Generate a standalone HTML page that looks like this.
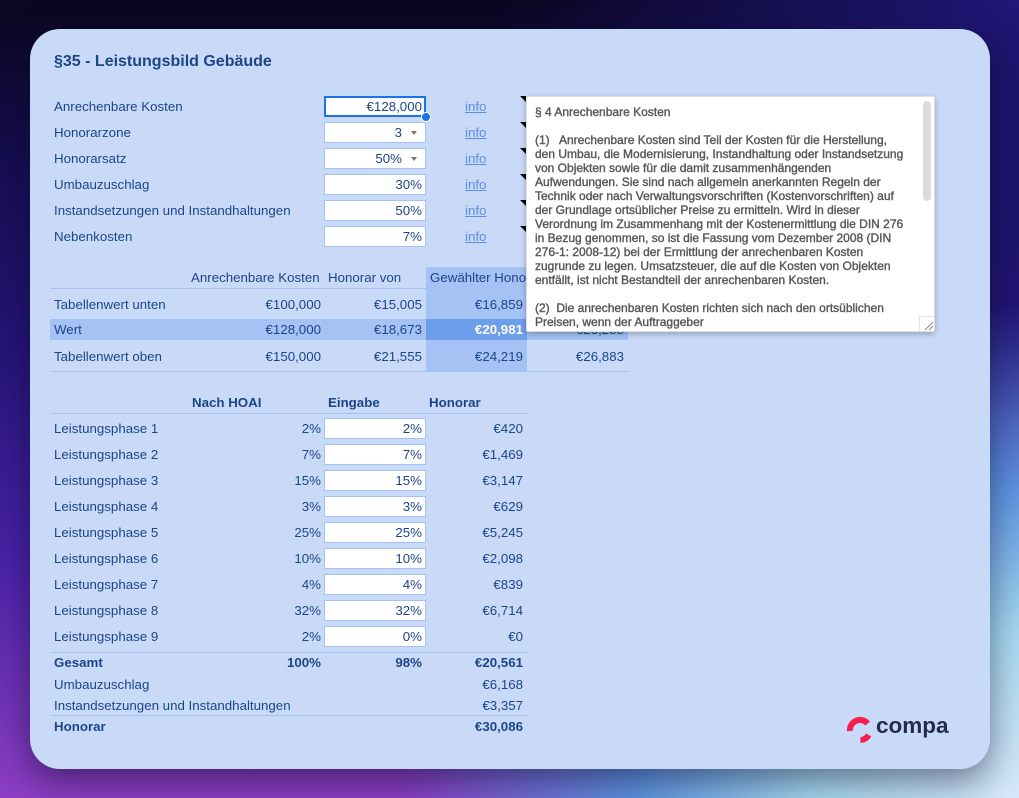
<!DOCTYPE html>
<html><head><meta charset="utf-8"><style>
html,body{margin:0;padding:0;}
body{width:1019px;height:798px;overflow:hidden;position:relative;font-family:"Liberation Sans",Arial,sans-serif;
background:
 radial-gradient(ellipse 520px 420px at 100% 0%, rgba(36,26,135,0.85) 0%, rgba(36,26,135,0) 100%),
 radial-gradient(ellipse 700px 560px at 100% 100%, #d8e8fa 0%, #a6d8f0 30%, #5d94e0 55%, rgba(60,60,180,0) 88%),
 linear-gradient(180deg,#0a0720 0%,#150e50 20%,#26157a 45%,#4a22a8 70%,#8e3ec4 100%);}
.card{position:absolute;left:30px;top:29px;width:960px;height:740px;border-radius:30px;background:#c9daf8;box-shadow:0 12px 34px rgba(10,10,40,0.5);}
.t{position:absolute;line-height:16px;white-space:nowrap;font-size:13.3px;color:#1c4587;}
.r{text-align:right;}
.b{font-weight:bold;}
.box{position:absolute;background:#fff;border:1px solid #a4c2f4;box-sizing:border-box;height:21px;width:102px;left:324px;}
.info{position:absolute;left:465px;line-height:16px;font-size:13.3px;color:#5a8ee8;text-decoration:underline;}
.tri{position:absolute;left:520px;width:0;height:0;border-top:6px solid #000;border-left:6px solid transparent;}
.arrow{position:absolute;left:411px;width:0;height:0;border-top:4px solid #777;border-left:3.5px solid transparent;border-right:3.5px solid transparent;}
.hl{position:absolute;}
.line{position:absolute;height:1px;background:#a4c2f4;}
.pop{position:absolute;left:526px;top:96px;width:409px;height:236px;background:#fff;box-sizing:border-box;border:1px solid #dedede;border-radius:2px;box-shadow:0 2px 6px rgba(0,0,0,0.28);overflow:hidden;}
.p{position:absolute;left:8px;font-size:12px;line-height:14px;color:#585858;-webkit-text-stroke:0.4px #585858;white-space:pre;}
</style></head><body>
<div class="card"></div>

<!-- Title -->
<div class="t b" style="left:54px;top:53px;font-size:16px;line-height:18px;">§35 - Leistungsbild Gebäude</div>

<!-- Input section -->
<div class="t" style="left:54px;top:98.5px;">Anrechenbare Kosten</div>
<div class="t" style="left:54px;top:124.5px;">Honorarzone</div>
<div class="t" style="left:54px;top:150.5px;">Honorarsatz</div>
<div class="t" style="left:54px;top:176.5px;">Umbauzuschlag</div>
<div class="t" style="left:54px;top:202.5px;">Instandsetzungen und Instandhaltungen</div>
<div class="t" style="left:54px;top:228.5px;">Nebenkosten</div>

<div class="box" style="top:96px;border:2px solid #1a73e8;"></div>
<div class="box" style="top:122px;"></div>
<div class="box" style="top:148px;"></div>
<div class="box" style="top:174px;"></div>
<div class="box" style="top:200px;"></div>
<div class="box" style="top:226px;"></div>
<div style="position:absolute;left:421px;top:112px;width:8px;height:8px;border-radius:50%;background:#1a73e8;border:1px solid #fff;"></div>

<div class="t r" style="left:324px;width:98px;top:98.5px;">€128,000</div>
<div class="t r" style="left:324px;width:78px;top:124.5px;">3</div>
<div class="arrow" style="top:131px;"></div>
<div class="t r" style="left:324px;width:78px;top:150.5px;">50%</div>
<div class="arrow" style="top:157px;"></div>
<div class="t r" style="left:324px;width:98px;top:176.5px;">30%</div>
<div class="t r" style="left:324px;width:98px;top:202.5px;">50%</div>
<div class="t r" style="left:324px;width:98px;top:228.5px;">7%</div>

<div class="info" style="top:98.5px;">info</div>
<div class="info" style="top:124.5px;">info</div>
<div class="info" style="top:150.5px;">info</div>
<div class="info" style="top:176.5px;">info</div>
<div class="info" style="top:202.5px;">info</div>
<div class="info" style="top:228.5px;">info</div>

<div class="tri" style="top:96px;"></div>
<div class="tri" style="top:122px;"></div>
<div class="tri" style="top:148px;"></div>
<div class="tri" style="top:174px;"></div>
<div class="tri" style="top:200px;"></div>
<div class="tri" style="top:226px;"></div>

<!-- Table 2 -->
<div class="hl" style="left:426px;top:267px;width:101px;height:104px;background:#a4c2f4;"></div>
<div class="hl" style="left:50px;top:319px;width:578px;height:21px;background:#a4c2f4;"></div>
<div class="hl" style="left:426px;top:319px;width:101px;height:21px;background:#6d9eeb;"></div>
<div class="line" style="left:50px;top:288px;width:578px;"></div>
<div class="line" style="left:50px;top:371px;width:578px;"></div>

<div class="t" style="left:191px;top:270px;">Anrechenbare Kosten</div>
<div class="t" style="left:328px;top:270px;">Honorar von</div>
<div class="t" style="left:430px;top:270px;">Gewählter Honorar</div>
<div class="t" style="left:531px;top:270px;">Honorar bis</div>

<div class="t" style="left:54px;top:296.5px;">Tabellenwert unten</div>
<div class="t r" style="left:187px;width:134px;top:296.5px;">€100,000</div>
<div class="t r" style="left:324px;width:98px;top:296.5px;">€15,005</div>
<div class="t r" style="left:426px;width:97px;top:296.5px;">€16,859</div>
<div class="t r" style="left:527px;width:97px;top:296.5px;">€18,713</div>

<div class="t" style="left:54px;top:322px;">Wert</div>
<div class="t r" style="left:187px;width:134px;top:322px;">€128,000</div>
<div class="t r" style="left:324px;width:98px;top:322px;">€18,673</div>
<div class="t r b" style="left:426px;width:97px;top:322px;color:#fff;">€20,981</div>
<div class="t r" style="left:527px;width:97px;top:322px;">€23,288</div>

<div class="t" style="left:54px;top:348.5px;">Tabellenwert oben</div>
<div class="t r" style="left:187px;width:134px;top:348.5px;">€150,000</div>
<div class="t r" style="left:324px;width:98px;top:348.5px;">€21,555</div>
<div class="t r" style="left:426px;width:97px;top:348.5px;">€24,219</div>
<div class="t r" style="left:527px;width:97px;top:348.5px;">€26,883</div>

<!-- Table 3 -->
<div class="t b" style="left:192px;top:395px;">Nach HOAI</div>
<div class="t b" style="left:328px;top:395px;">Eingabe</div>
<div class="t b" style="left:429px;top:395px;">Honorar</div>
<div class="line" style="left:50px;top:413px;width:477px;"></div>

<div class="box" style="top:418px;"></div>
<div class="box" style="top:444px;"></div>
<div class="box" style="top:470px;"></div>
<div class="box" style="top:496px;"></div>
<div class="box" style="top:522px;"></div>
<div class="box" style="top:548px;"></div>
<div class="box" style="top:574px;"></div>
<div class="box" style="top:600px;"></div>
<div class="box" style="top:626px;"></div>

<div class="t" style="left:54px;top:421px;">Leistungsphase 1</div>
<div class="t r" style="left:187px;width:134px;top:421px;">2%</div>
<div class="t r" style="left:324px;width:98px;top:421px;">2%</div>
<div class="t r" style="left:426px;width:97px;top:421px;">€420</div>

<div class="t" style="left:54px;top:447px;">Leistungsphase 2</div>
<div class="t r" style="left:187px;width:134px;top:447px;">7%</div>
<div class="t r" style="left:324px;width:98px;top:447px;">7%</div>
<div class="t r" style="left:426px;width:97px;top:447px;">€1,469</div>

<div class="t" style="left:54px;top:473px;">Leistungsphase 3</div>
<div class="t r" style="left:187px;width:134px;top:473px;">15%</div>
<div class="t r" style="left:324px;width:98px;top:473px;">15%</div>
<div class="t r" style="left:426px;width:97px;top:473px;">€3,147</div>

<div class="t" style="left:54px;top:499px;">Leistungsphase 4</div>
<div class="t r" style="left:187px;width:134px;top:499px;">3%</div>
<div class="t r" style="left:324px;width:98px;top:499px;">3%</div>
<div class="t r" style="left:426px;width:97px;top:499px;">€629</div>

<div class="t" style="left:54px;top:525px;">Leistungsphase 5</div>
<div class="t r" style="left:187px;width:134px;top:525px;">25%</div>
<div class="t r" style="left:324px;width:98px;top:525px;">25%</div>
<div class="t r" style="left:426px;width:97px;top:525px;">€5,245</div>

<div class="t" style="left:54px;top:551px;">Leistungsphase 6</div>
<div class="t r" style="left:187px;width:134px;top:551px;">10%</div>
<div class="t r" style="left:324px;width:98px;top:551px;">10%</div>
<div class="t r" style="left:426px;width:97px;top:551px;">€2,098</div>

<div class="t" style="left:54px;top:577px;">Leistungsphase 7</div>
<div class="t r" style="left:187px;width:134px;top:577px;">4%</div>
<div class="t r" style="left:324px;width:98px;top:577px;">4%</div>
<div class="t r" style="left:426px;width:97px;top:577px;">€839</div>

<div class="t" style="left:54px;top:603px;">Leistungsphase 8</div>
<div class="t r" style="left:187px;width:134px;top:603px;">32%</div>
<div class="t r" style="left:324px;width:98px;top:603px;">32%</div>
<div class="t r" style="left:426px;width:97px;top:603px;">€6,714</div>

<div class="t" style="left:54px;top:629px;">Leistungsphase 9</div>
<div class="t r" style="left:187px;width:134px;top:629px;">2%</div>
<div class="t r" style="left:324px;width:98px;top:629px;">0%</div>
<div class="t r" style="left:426px;width:97px;top:629px;">€0</div>

<div class="line" style="left:50px;top:652px;width:477px;"></div>
<div class="t b" style="left:54px;top:655px;">Gesamt</div>
<div class="t r b" style="left:187px;width:134px;top:655px;">100%</div>
<div class="t r b" style="left:324px;width:98px;top:655px;">98%</div>
<div class="t r b" style="left:426px;width:97px;top:655px;">€20,561</div>

<div class="t" style="left:54px;top:677px;">Umbauzuschlag</div>
<div class="t r" style="left:426px;width:97px;top:677px;">€6,168</div>
<div class="t" style="left:54px;top:698px;">Instandsetzungen und Instandhaltungen</div>
<div class="t r" style="left:426px;width:97px;top:698px;">€3,357</div>
<div class="line" style="left:50px;top:715px;width:477px;"></div>
<div class="t b" style="left:54px;top:719px;">Honorar</div>
<div class="t r b" style="left:426px;width:97px;top:719px;">€30,086</div>

<!-- Popup -->
<div class="pop">
<div class="p" style="top:8px;">§ 4 Anrechenbare Kosten</div>
<div class="p" style="top:36px;">(1)   Anrechenbare Kosten sind Teil der Kosten für die Herstellung,</div>
<div class="p" style="top:50px;">den Umbau, die Modernisierung, Instandhaltung oder Instandsetzung</div>
<div class="p" style="top:64px;">von Objekten sowie für die damit zusammenhängenden</div>
<div class="p" style="top:78px;">Aufwendungen. Sie sind nach allgemein anerkannten Regeln der</div>
<div class="p" style="top:92px;">Technik oder nach Verwaltungsvorschriften (Kostenvorschriften) auf</div>
<div class="p" style="top:106px;">der Grundlage ortsüblicher Preise zu ermitteln. Wird in dieser</div>
<div class="p" style="top:120px;">Verordnung im Zusammenhang mit der Kostenermittlung die DIN 276</div>
<div class="p" style="top:134px;">in Bezug genommen, so ist die Fassung vom Dezember 2008 (DIN</div>
<div class="p" style="top:148px;">276-1: 2008-12) bei der Ermittlung der anrechenbaren Kosten</div>
<div class="p" style="top:162px;">zugrunde zu legen. Umsatzsteuer, die auf die Kosten von Objekten</div>
<div class="p" style="top:176px;">entfällt, ist nicht Bestandteil der anrechenbaren Kosten.</div>
<div class="p" style="top:204px;">(2)  Die anrechenbaren Kosten richten sich nach den ortsüblichen</div>
<div class="p" style="top:218px;">Preisen, wenn der Auftraggeber</div>
<div style="position:absolute;left:396px;top:4px;width:8px;height:100px;border-radius:4px;background:#dadce0;"></div>
<div style="position:absolute;left:392px;top:219px;width:16px;height:16px;box-sizing:border-box;border-left:1px solid #e2e2e2;border-top:1px solid #e2e2e2;background:#fff;">
<svg width="15" height="15" style="position:absolute;left:0;top:0"><line x1="13" y1="5" x2="5" y2="13" stroke="#888" stroke-width="1"/><line x1="13" y1="9" x2="9" y2="13" stroke="#888" stroke-width="1"/></svg>
</div>
</div>

<!-- Logo -->
<svg style="position:absolute;left:846px;top:716px;" width="28" height="28" viewBox="-14 -14 28 28">
<path d="M -10 1 A 10 10 0 0 1 7.66 -6.43" fill="none" stroke="#f51f4b" stroke-width="6"/>
<path d="M 8.66 5 A 10 10 0 0 1 0.5 10" fill="none" stroke="#f51f4b" stroke-width="6"/>
</svg>
<div style="position:absolute;left:876px;top:713px;font-size:22.5px;line-height:26px;font-weight:bold;color:#262a4e;white-space:nowrap;">compa</div>
</body></html>
